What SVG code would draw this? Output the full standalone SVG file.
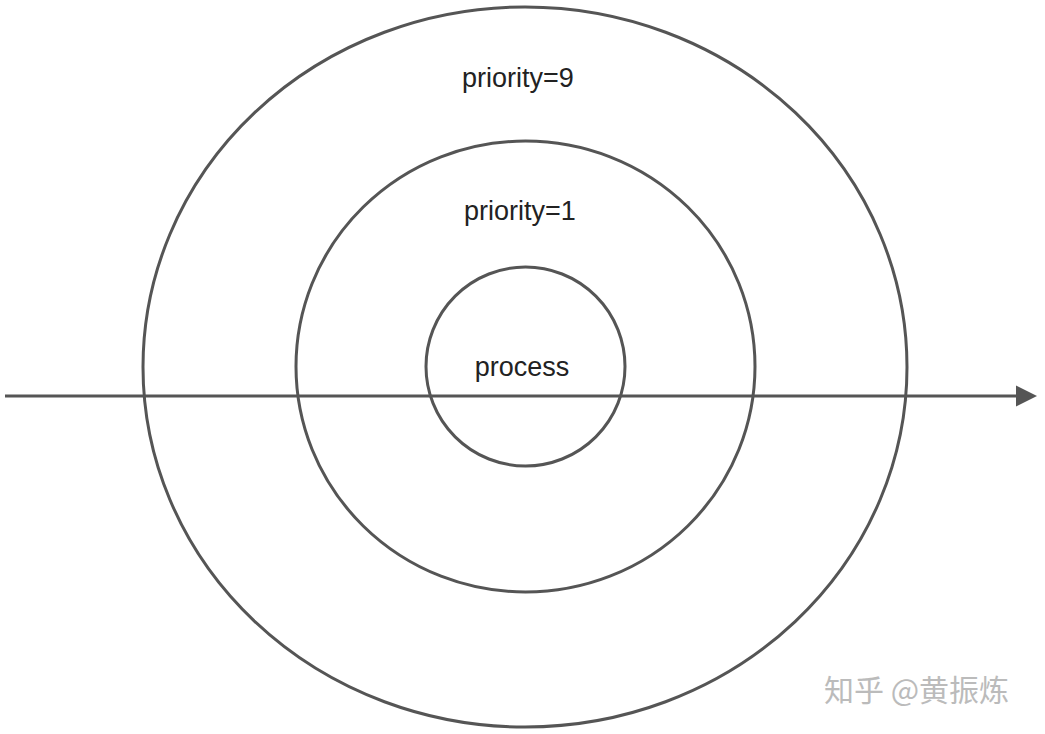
<svg xmlns="http://www.w3.org/2000/svg" width="1045" height="734" viewBox="0 0 1045 734">
<style>
.ring{fill:none;stroke:#555;stroke-width:3}
.lbl{font-family:"Liberation Sans",Arial,sans-serif;font-size:27px;fill:#222;text-anchor:middle}
</style>
<defs><marker id="ah" markerWidth="8" markerHeight="8" refX="1" refY="4" orient="auto" markerUnits="strokeWidth"><path d="M0,0.5 L7,4 L0,7.5 Z" fill="#555"/></marker></defs>
<rect width="1045" height="734" fill="#fff"/>
<g id="outer"><ellipse class="ring" cx="525" cy="367" rx="382" ry="360"/><text class="lbl" x="518" y="87">priority=9</text></g>
<g id="middle"><ellipse class="ring" cx="525.5" cy="366.5" rx="229.5" ry="225.5"/><text class="lbl" x="520" y="220">priority=1</text></g>
<g id="inner"><ellipse class="ring" cx="525.5" cy="366.5" rx="99.5" ry="99.5"/><text class="lbl" x="522" y="376">process</text></g>
<g id="connectors"><line x1="5" y1="396" x2="1019" y2="396" stroke="#555" stroke-width="3" marker-end="url(#ah)"/></g>
<text x="824" y="701" font-family="'Noto Sans CJK SC',sans-serif" font-size="30" fill="#bbb">知乎 @黄振炼</text>
</svg>
